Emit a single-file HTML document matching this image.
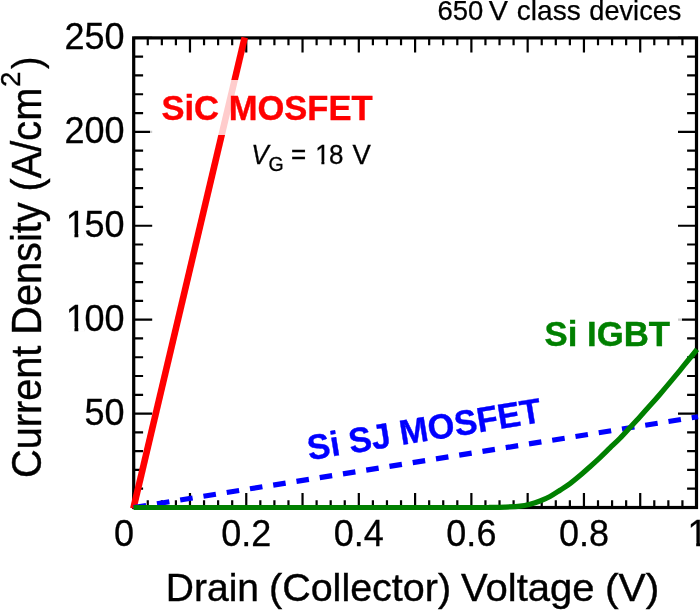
<!DOCTYPE html>
<html><head><meta charset="utf-8"><title>650 V class devices</title>
<style>
html,body{margin:0;padding:0;background:#fff;}
body{width:700px;height:610px;overflow:hidden;}
svg{display:block;}
text{font-family:"Liberation Sans",Arial,Helvetica,sans-serif;}
</style></head><body>
<svg width="700" height="610" viewBox="0 0 700 610">
<rect width="700" height="610" fill="#fff"/>
<g stroke="#000" stroke-width="2.2" fill="none">
<path d="M133.70 37.90v14.5M133.70 507.50v-14.5M147.77 37.90v7.3M147.77 507.50v-7.3M161.84 37.90v7.3M161.84 507.50v-7.3M175.91 37.90v7.3M175.91 507.50v-7.3M189.98 37.90v14.5M189.98 507.50v-14.5M204.05 37.90v7.3M204.05 507.50v-7.3M218.12 37.90v7.3M218.12 507.50v-7.3M232.19 37.90v7.3M232.19 507.50v-7.3M246.26 37.90v14.5M246.26 507.50v-14.5M260.33 37.90v7.3M260.33 507.50v-7.3M274.40 37.90v7.3M274.40 507.50v-7.3M288.47 37.90v7.3M288.47 507.50v-7.3M302.54 37.90v14.5M302.54 507.50v-14.5M316.61 37.90v7.3M316.61 507.50v-7.3M330.68 37.90v7.3M330.68 507.50v-7.3M344.75 37.90v7.3M344.75 507.50v-7.3M358.82 37.90v14.5M358.82 507.50v-14.5M372.89 37.90v7.3M372.89 507.50v-7.3M386.96 37.90v7.3M386.96 507.50v-7.3M401.03 37.90v7.3M401.03 507.50v-7.3M415.10 37.90v14.5M415.10 507.50v-14.5M429.17 37.90v7.3M429.17 507.50v-7.3M443.24 37.90v7.3M443.24 507.50v-7.3M457.31 37.90v7.3M457.31 507.50v-7.3M471.38 37.90v14.5M471.38 507.50v-14.5M485.45 37.90v7.3M485.45 507.50v-7.3M499.52 37.90v7.3M499.52 507.50v-7.3M513.59 37.90v7.3M513.59 507.50v-7.3M527.66 37.90v14.5M527.66 507.50v-14.5M541.73 37.90v7.3M541.73 507.50v-7.3M555.80 37.90v7.3M555.80 507.50v-7.3M569.87 37.90v7.3M569.87 507.50v-7.3M583.94 37.90v14.5M583.94 507.50v-14.5M598.01 37.90v7.3M598.01 507.50v-7.3M612.08 37.90v7.3M612.08 507.50v-7.3M626.15 37.90v7.3M626.15 507.50v-7.3M640.22 37.90v14.5M640.22 507.50v-14.5M654.29 37.90v7.3M654.29 507.50v-7.3M668.36 37.90v7.3M668.36 507.50v-7.3M682.43 37.90v7.3M682.43 507.50v-7.3M696.50 37.90v14.5M696.50 507.50v-14.5M133.70 507.50h18.5M696.50 507.50h-18.5M133.70 488.72h9.4M696.50 488.72h-9.4M133.70 469.93h9.4M696.50 469.93h-9.4M133.70 451.15h9.4M696.50 451.15h-9.4M133.70 432.36h9.4M696.50 432.36h-9.4M133.70 413.58h18.5M696.50 413.58h-18.5M133.70 394.80h9.4M696.50 394.80h-9.4M133.70 376.01h9.4M696.50 376.01h-9.4M133.70 357.23h9.4M696.50 357.23h-9.4M133.70 338.44h9.4M696.50 338.44h-9.4M133.70 319.66h18.5M696.50 319.66h-18.5M133.70 300.88h9.4M696.50 300.88h-9.4M133.70 282.09h9.4M696.50 282.09h-9.4M133.70 263.31h9.4M696.50 263.31h-9.4M133.70 244.52h9.4M696.50 244.52h-9.4M133.70 225.74h18.5M696.50 225.74h-18.5M133.70 206.96h9.4M696.50 206.96h-9.4M133.70 188.17h9.4M696.50 188.17h-9.4M133.70 169.39h9.4M696.50 169.39h-9.4M133.70 150.60h9.4M696.50 150.60h-9.4M133.70 131.82h18.5M696.50 131.82h-18.5M133.70 113.04h9.4M696.50 113.04h-9.4M133.70 94.25h9.4M696.50 94.25h-9.4M133.70 75.47h9.4M696.50 75.47h-9.4M133.70 56.68h9.4M696.50 56.68h-9.4M133.70 37.90h18.5M696.50 37.90h-18.5"/>
</g>
<rect x="133.70" y="37.90" width="562.80" height="469.60" fill="none" stroke="#000" stroke-width="3.2"/>
<line x1="133.35" y1="508.40" x2="244.7" y2="37.4" stroke="#f00" stroke-width="6.6"/>
<line x1="133.70" y1="507.50" x2="698.00" y2="416.76" stroke="#00f" stroke-width="5.2" stroke-dasharray="12.6 10.95"/>
<path d="M133.6 507.5C189.67 507.50 410.60 507.52 470 507.5C529.40 507.48 484.17 507.47 490 507.4C495.83 507.33 500.00 507.30 505 507.1C510.00 506.90 515.83 506.68 520 506.2C524.17 505.72 526.67 505.07 530 504.2C533.33 503.33 536.67 502.28 540 501C543.33 499.72 546.67 498.30 550 496.5C553.33 494.70 556.67 492.35 560 490.2C563.33 488.05 566.67 486.05 570 483.6C573.33 481.15 576.67 478.32 580 475.5C583.33 472.68 586.67 469.68 590 466.7C593.33 463.72 596.67 460.73 600 457.6C603.33 454.47 606.67 451.13 610 447.9C613.33 444.67 616.67 441.60 620 438.2C623.33 434.80 626.67 431.08 630 427.5C633.33 423.92 636.67 420.35 640 416.7C643.33 413.05 646.67 409.35 650 405.6C653.33 401.85 656.67 398.07 660 394.2C663.33 390.33 666.67 386.38 670 382.4C673.33 378.42 676.67 374.37 680 370.3C683.33 366.23 687.17 361.50 690 358.0C692.83 354.50 695.83 350.75 697.0 349.3" fill="none" stroke="#008000" stroke-width="5.2"/>
<rect x="150" y="80" width="232" height="55" fill="#fff" fill-opacity="0.8"/>
<rect x="538" y="309" width="144" height="48" fill="#fff" fill-opacity="0.8"/>
<text x="161.5" y="120.2" font-size="35.3" font-weight="bold" fill="#f00" stroke="#f00" stroke-width="0.4" textLength="211" lengthAdjust="spacingAndGlyphs">SiC MOSFET</text>
<text x="544.5" y="345.6" font-size="35.3" font-weight="bold" fill="#008000" stroke="#008000" stroke-width="0.4" textLength="125.6" lengthAdjust="spacingAndGlyphs">Si IGBT</text>
<text transform="translate(309.3,460.2) rotate(-9.3)" font-size="35" font-weight="bold" fill="#00f" stroke="#00f" stroke-width="0.4" textLength="236.6" lengthAdjust="spacingAndGlyphs">Si SJ MOSFET</text>
<text transform="translate(251.2,163.8) scale(0.93,1)" font-size="28" stroke="#000" stroke-width="0.3"><tspan font-style="italic">V</tspan><tspan font-size="21" dy="7.2">G</tspan><tspan dy="-7.2"> =</tspan></text>
<text transform="translate(315.2,163.8) scale(0.93,1)" font-size="28" stroke="#000" stroke-width="0.3">1<tspan dx="-0.6">8</tspan></text>
<text transform="translate(352.4,163.8) scale(0.98,1)" font-size="28" stroke="#000" stroke-width="0.3">V</text>
<text y="19.8" font-size="27.4" stroke="#000" stroke-width="0.25"><tspan x="437.4" textLength="45.9" lengthAdjust="spacingAndGlyphs">650</tspan> <tspan x="488.8" textLength="19.2" lengthAdjust="spacingAndGlyphs">V</tspan> <tspan x="516.8" textLength="63.9" lengthAdjust="spacingAndGlyphs">class</tspan> <tspan x="589.3" textLength="92.1" lengthAdjust="spacingAndGlyphs">devices</tspan></text>
<text x="84.56" y="424.58" font-size="36" stroke="#000" stroke-width="0.3">50</text>
<text x="65.74" y="330.66" font-size="36" stroke="#000" stroke-width="0.3">1<tspan dx="-1.2">00</tspan></text>
<rect x="67.68" y="327.07" width="6.76" height="4.89" fill="#fff"/><rect x="78.32" y="327.07" width="6.48" height="4.89" fill="#fff"/>
<text x="65.74" y="236.74" font-size="36" stroke="#000" stroke-width="0.3">1<tspan dx="-1.2">50</tspan></text>
<rect x="67.68" y="233.15" width="6.76" height="4.89" fill="#fff"/><rect x="78.32" y="233.15" width="6.48" height="4.89" fill="#fff"/>
<text x="64.54" y="142.82" font-size="36" stroke="#000" stroke-width="0.3">200</text>
<text x="64.54" y="48.90" font-size="36" stroke="#000" stroke-width="0.3">250</text>
<rect x="316.38" y="160.81" width="5.01" height="4.29" fill="#fff"/><rect x="324.40" y="160.81" width="4.81" height="4.29" fill="#fff"/>
<text transform="translate(123.9,546) scale(0.955,1)" font-size="37.7" text-anchor="middle" stroke="#000" stroke-width="0.3">0</text>
<text transform="translate(246.26,546) scale(0.955,1)" font-size="37.7" text-anchor="middle" stroke="#000" stroke-width="0.3">0.2</text>
<text transform="translate(358.82,546) scale(0.955,1)" font-size="37.7" text-anchor="middle" stroke="#000" stroke-width="0.3">0.4</text>
<text transform="translate(471.38,546) scale(0.955,1)" font-size="37.7" text-anchor="middle" stroke="#000" stroke-width="0.3">0.6</text>
<text transform="translate(583.94,546) scale(0.955,1)" font-size="37.7" text-anchor="middle" stroke="#000" stroke-width="0.3">0.8</text>
<text transform="translate(697.50,546) scale(0.955,1)" font-size="37.7" text-anchor="middle" stroke="#000" stroke-width="0.3">1</text>
<rect x="689.43" y="542.28" width="6.76" height="5.02" fill="#fff"/><rect x="700.07" y="542.28" width="6.48" height="5.02" fill="#fff"/>
<text y="601.1" font-size="39.7" stroke="#000" stroke-width="0.4"><tspan x="165.8" textLength="93.2" lengthAdjust="spacingAndGlyphs">Drain</tspan> <tspan x="269" textLength="182.1" lengthAdjust="spacingAndGlyphs">(Collector)</tspan> <tspan x="461" textLength="133.6" lengthAdjust="spacingAndGlyphs">Voltage</tspan> <tspan x="605" textLength="54.3" lengthAdjust="spacingAndGlyphs">(V)</tspan></text>
<text transform="translate(41,478) rotate(-90) scale(0.9315,1)" font-size="42.6" stroke="#000" stroke-width="0.4">Current Density (A/cm</text>
<text transform="translate(20.3,86.9) rotate(-90)" font-size="27.6" stroke="#000" stroke-width="0.4">2</text>
<text transform="translate(40.6,69.2) rotate(-90) scale(0.95,1)" font-size="40.8" stroke="#000" stroke-width="0.25">)</text>
</svg>
</body></html>
